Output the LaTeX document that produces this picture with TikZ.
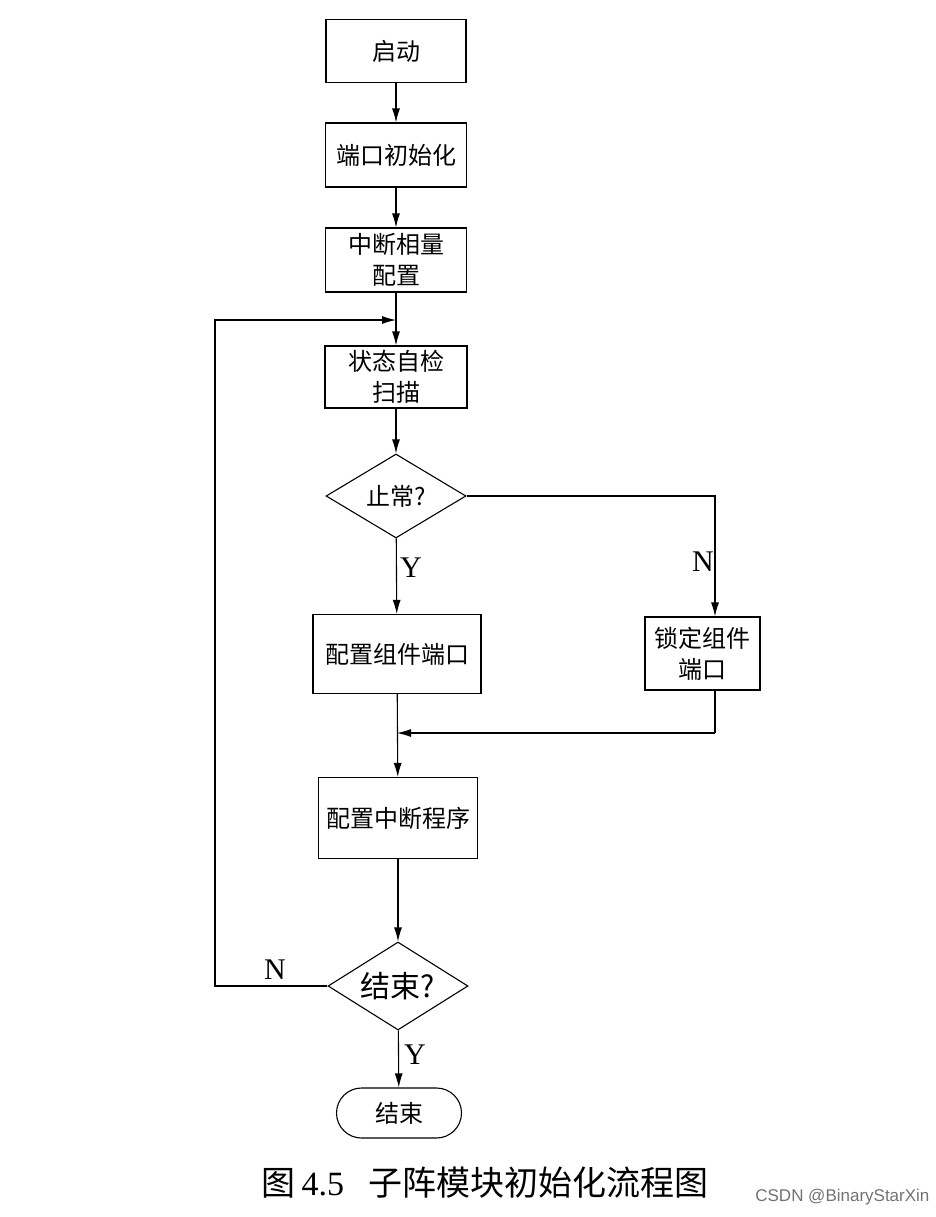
\documentclass[tikz,border=0pt]{standalone}
\usepackage{fontspec}
\setmainfont{Liberation Serif}
\setsansfont{Liberation Sans}
\newfontfamily\cjk{Noto Sans CJK SC}
\usetikzlibrary{arrows.meta,shapes.geometric}
\begin{document}
\begin{tikzpicture}[x=1pt,y=-1pt,
  line width=1.1pt,
  box/.style={draw,rectangle,inner sep=0pt,align=center,font=\cjk\fontsize{24}{31}\selectfont},
  dec/.style={draw,diamond,inner sep=0pt,aspect=1.65,minimum width=140pt,minimum height=84pt,font=\cjk\fontsize{24}{30}\selectfont},
  term/.style={draw,rectangle,rounded corners=25pt,inner sep=0pt,minimum width=125pt,minimum height=50pt,font=\cjk\fontsize{24}{30}\selectfont},
  arr/.style={-{Latex[length=14pt,width=8pt]}},
  lbl/.style={font=\fontsize{30}{30}\selectfont,inner sep=0pt}
]
\useasboundingbox (0,0) rectangle (936,1217);
\fill[white] (0,0) rectangle (936,1217);

\node[box,minimum width=140pt,minimum height=63pt] (start) at (396,51) {启动};
\node[box,minimum width=141pt,minimum height=64pt] (init) at (396,155) {端口初始化};
\node[box,minimum width=141pt,minimum height=64pt] (irq) at (396,260) {中断相量\\配置};
\node[box,minimum width=142pt,minimum height=62pt] (scan) at (396,377) {状态自检\\扫描};
\node[dec] (d1) at (396,496) {止常?};
\node[box,minimum width=168pt,minimum height=79pt] (cfgport) at (397,654) {配置组件端口};
\node[box,minimum width=115pt,minimum height=73pt] (lock) at (702.5,653.5) {锁定组件\\端口};
\node[box,minimum width=159pt,minimum height=81pt] (prog) at (398,818) {配置中断程序};
\node[dec,minimum width=140pt,minimum height=88pt,font=\cjk\fontsize{30}{34}\selectfont] (d2) at (398,986) {结束?};
\node[term] (end) at (399,1113) {结束};

\coordinate (nx) at (715,496);
\coordinate (mg) at (715,733);
\coordinate (lx) at (215,986);
\coordinate (ly) at (215,320);
\coordinate (li) at (396,320);

\draw[arr] (start) -- (init);
\draw[arr] (init) -- (irq);
\draw[arr] (irq) -- (scan);
\draw[arr] (scan) -- (d1);
\draw[arr] (d1) -- (cfgport);
\draw[arr] (d1.east) -- (nx) -- (nx |- lock.north);
\draw (nx |- lock.south) -- (mg);
\draw[arr] (mg) -- (mg -| cfgport.south);
\draw[arr] (cfgport) -- (prog);
\draw[arr] (prog) -- (d2);
\draw[arr] (d2) -- (end);
\draw[arr] (d2.west) -- (lx) -- (ly) -- (li);

\node[lbl] (ly1) at (411,568) {Y};
\node[lbl] (ln1) at (703,562) {N};
\node[lbl] (ln2) at (275,970) {N};
\node[lbl] (ly2) at (415,1055) {Y};

\node[inner sep=0pt,font=\fontsize{34}{34}\selectfont] (cap) at (485,1183) {{\cjk 图}\,4.5\hspace{24pt}{\cjk 子阵模块初始化流程图}};
\node[inner sep=0pt,font=\fontsize{17}{17}\selectfont\sffamily,text=black!55,anchor=east] (wm) at (930,1197) {CSDN @BinaryStarXin};
\end{tikzpicture}
\end{document}
